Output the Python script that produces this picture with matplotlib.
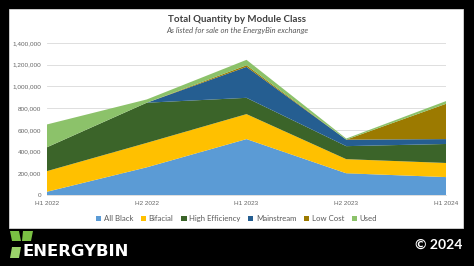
import matplotlib.pyplot as plt
from matplotlib.patches import Rectangle, Polygon
from matplotlib.ticker import FuncFormatter

periods = ['H1 2022', 'H2 2022', 'H1 2023', 'H2 2023', 'H1 2024']
all_black = [30000, 255000, 515000, 200000, 165000]
bifacial = [190000, 225000, 230000, 130000, 130000]
high_eff = [220000, 370000, 150000, 120000, 175000]
mainstream = [0, 0, 285000, 60000, 45000]
low_cost = [0, 0, 15000, 0, 325000]
used = [210000, 30000, 50000, 10000, 25000]

names = ['All Black', 'Bifacial', 'High Efficiency', 'Mainstream', 'Low Cost', 'Used']
colors = ['#5b9bd5', '#ffc000', '#3b6429', '#255e91', '#9c7a00', '#8cc26a']

W, H = 474, 266
fig = plt.figure(figsize=(W/100, H/100), dpi=100, facecolor='black')

# white chart panel
fig.patches.append(Rectangle((9/W, 1-228/H), (463-9)/W, (228-9)/H,
                             transform=fig.transFigure, facecolor='white',
                             edgecolor='#d9d9d9', lw=0.6, zorder=-5))

ax = fig.add_axes([47/W, 1-195/H, (446-47)/W, (195-43)/H], zorder=2)
ax.patch.set_alpha(0)
x = list(range(len(periods)))
ax.stackplot(x, all_black, bifacial, high_eff, mainstream, low_cost, used,
             colors=colors, labels=names, lw=0, zorder=2)

ax.set_xlim(0, len(periods)-1)
ax.set_ylim(0, 1400000)
ax.set_yticks(range(0, 1400001, 200000))
ax.yaxis.set_major_formatter(FuncFormatter(lambda v, p: '{:,.0f}'.format(v)))
ax.set_xticks(x)
ax.set_xticklabels(periods)
ax.grid(axis='y', color='#d9d9d9', lw=0.6, zorder=0)
ax.set_axisbelow(True)
for s in ['top', 'right', 'left']:
    ax.spines[s].set_visible(False)
ax.spines['bottom'].set_color('#d9d9d9')
ax.spines['bottom'].set_linewidth(0.6)
ax.tick_params(axis='both', length=0, labelsize=4.6, colors='#666666', pad=4)
for t in ax.get_xticklabels() + ax.get_yticklabels():
    t.set_fontfamily('Liberation Sans')

fig.text(237/W, 1-20/H, 'Total Quantity by Module Class', ha='center', va='center',
         fontsize=7.0, fontweight='bold', color='#404040', family='Lato')
fig.text(237/W, 1-31/H, 'As listed for sale on the EnergyBin exchange', ha='center',
         va='center', fontsize=5.6, style='italic', color='#595959', family='Lato')

leg = ax.legend(loc='center', bbox_to_anchor=(0.475, -0.155), ncol=6, frameon=False,
                handlelength=0.7, handleheight=0.7, handletextpad=0.3,
                columnspacing=1.0, prop={'family': 'Lato', 'size': 5.6})
for t in leg.get_texts():
    t.set_color('#595959')

# energybin logo
lg = '#7ac143'
fig.patches.append(Polygon([(10/W, 1-231/H), (19/W, 1-231/H), (21/W, 1-241/H), (12/W, 1-241/H)],
                           closed=True, transform=fig.transFigure, facecolor=lg, lw=0))
fig.patches.append(Polygon([(23/W, 1-231/H), (33/W, 1-231/H), (31/W, 1-241/H), (22/W, 1-241/H)],
                           closed=True, transform=fig.transFigure, facecolor=lg, lw=0))
fig.patches.append(Polygon([(12/W, 1-247/H), (21/W, 1-247/H), (19/W, 1-258/H), (10/W, 1-258/H)],
                           closed=True, transform=fig.transFigure, facecolor='#9bd36a', lw=0))
fig.text(22/W, 1-252/H, 'ENERGYBIN', ha='left', va='center', fontsize=11.8,
         fontweight='bold', color='white', family='DejaVu Sans')
fig.text(462/W, 1-245/H, '\u00a9 2024', ha='right', va='center', fontsize=10,
         fontweight='bold', color='white', family='Lato')

fig.savefig('out.png', dpi=100, facecolor='black')
